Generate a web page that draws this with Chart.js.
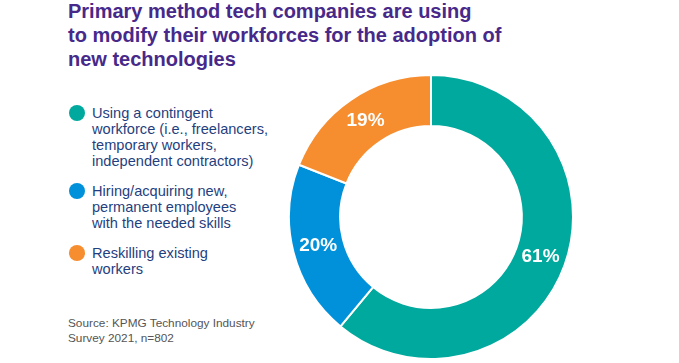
<!DOCTYPE html>
<html lang="en">

<head>
  <meta charset="UTF-8">
  <title>Workforce adoption</title>
  <style>
    body {
      margin: 0;
      width: 679px;
      height: 363px;
      background: #fff;
      position: relative;
      overflow: hidden;
      font-family: "Liberation Sans", Arial, sans-serif;
    }

    h1 {
      position: absolute;
      left: 68px;
      top: -1px;
      margin: 0;
      font-size: 20px;
      line-height: 24px;
      font-weight: bold;
      color: #47298a;
    }

    ul {
      position: absolute;
      left: 68px;
      top: 105px;
      margin: 0;
      padding: 0;
      list-style: none;
      width: 230px;
    }

    li {
      position: relative;
      padding-left: 24px;
      font-size: 14.6px;
      line-height: 16px;
      color: #1f3f80;
      margin-bottom: 14px;
    }

    li span {
      position: absolute;
      left: 1px;
      top: 0px;
      width: 16px;
      height: 16px;
      border-radius: 50%;
    }

    .src {
      position: absolute;
      left: 68px;
      top: 316px;
      font-size: 11.8px;
      line-height: 15px;
      color: #555;
    }

    .box {
      position: absolute;
      left: 285px;
      top: 72px;
      width: 292px;
      height: 290px;
    }
  </style>
</head>

<body>
  <h1>Primary method tech companies are using<br>to modify their workforces for the adoption of<br>new technologies</h1>
  <ul id="legend"></ul>
  <div class="src">Source: KPMG Technology Industry<br>Survey 2021, n=802</div>
  <div class="box">
    <canvas id="myChart"></canvas>
  </div>

  <script src="https://cdn.jsdelivr.net/npm/chart.js"></script>

  <script>
    const labels = [
      ['Using a contingent', 'workforce (i.e., freelancers,', 'temporary workers,', 'independent contractors)'],
      ['Hiring/acquiring new,', 'permanent employees', 'with the needed skills'],
      ['Reskilling existing', 'workers']
    ]
    const values = [61, 20, 19]
    const colors = ['#00a99d', '#0091da', '#f68d2e']

    // legend in html, multi-line labels
    const ul = document.getElementById('legend')
    labels.forEach((lines, i) => {
      const li = document.createElement('li')
      li.innerHTML = '<span style="background:' + colors[i] + '"></span>' + lines.join('<br>')
      ul.appendChild(li)
    })

    // percent text inside each slice
    const sliceText = {
      id: 'sliceText',
      afterDatasetsDraw(chart) {
        const c = chart.ctx
        const meta = chart.getDatasetMeta(0)
        c.save()
        c.fillStyle = '#fff'
        c.font = 'bold 19px "Liberation Sans", Arial, sans-serif'
        c.textAlign = 'center'
        c.textBaseline = 'middle'
        meta.data.forEach((arc, i) => {
          const p = arc.tooltipPosition()
          c.fillText(values[i] + '%', p.x, p.y)
        })
        c.restore()
      }
    }

    new Chart(document.getElementById('myChart'), {
      type: 'doughnut',
      data: {
        labels: labels.map(l => l.join(' ')),
        datasets: [{
          data: values,
          backgroundColor: colors,
          borderColor: '#fff',
          borderWidth: 2
        }]
      },
      options: {
        responsive: true,
        maintainAspectRatio: false,
        animation: false,
        cutout: '64%',
        layout: { padding: 2 },
        plugins: {
          legend: { display: false },
          tooltip: { enabled: false }
        }
      },
      plugins: [sliceText]
    });
  </script>
</body>

</html>
